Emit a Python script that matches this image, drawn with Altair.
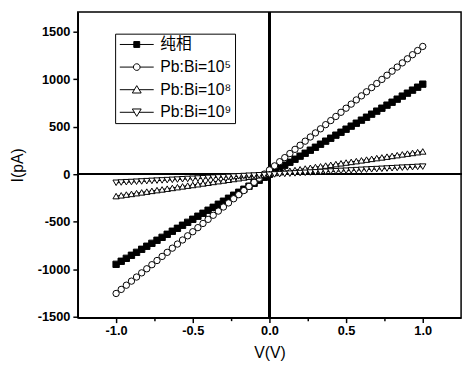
import altair as alt
import pandas as pd

voltage = [-1.0, -0.9667, -0.9333, -0.9, -0.8667, -0.8333, -0.8, -0.7667, -0.7333, -0.7,
           -0.6667, -0.6333, -0.6, -0.5667, -0.5333, -0.5, -0.4667, -0.4333, -0.4, -0.3667,
           -0.3333, -0.3, -0.2667, -0.2333, -0.2, -0.1667, -0.1333, -0.1, -0.0667, -0.0333,
           0.0,
           0.0333, 0.0667, 0.1, 0.1333, 0.1667, 0.2, 0.2333, 0.2667, 0.3, 0.3333,
           0.3667, 0.4, 0.4333, 0.4667, 0.5, 0.5333, 0.5667, 0.6, 0.6333, 0.6667,
           0.7, 0.7333, 0.7667, 0.8, 0.8333, 0.8667, 0.9, 0.9333, 0.9667, 1.0]

pure_phase = [-948, -916, -885, -853, -822, -790, -758, -727, -695, -664,
              -632, -600, -569, -537, -506, -474, -442, -411, -379, -348,
              -316, -284, -253, -221, -190, -158, -126, -95, -63, -32,
              0,
              32, 63, 95, 126, 158, 190, 221, 253, 284, 316,
              348, 379, 411, 442, 474, 506, 537, 569, 600, 632,
              664, 695, 727, 758, 790, 822, 853, 885, 916, 948]

pb_bi_1e5 = [-1255, -1212, -1168, -1125, -1082, -1038, -995, -952, -908, -865,
             -822, -778, -735, -692, -648, -605, -562, -518, -475, -432,
             -388, -345, -302, -258, -215, -172, -128, -85, -42, 2,
             45,
             88, 132, 175, 218, 262, 305, 348, 392, 435, 478,
             522, 565, 608, 652, 695, 738, 782, 825, 868, 912,
             955, 998, 1042, 1085, 1128, 1172, 1215, 1258, 1302, 1345]

pb_bi_1e8 = [-230, -222, -214, -207, -199, -191, -183, -175, -167, -160,
             -152, -144, -136, -128, -120, -113, -105, -97, -89, -81,
             -73, -66, -58, -50, -42, -34, -26, -19, -11, -3,
             5,
             13, 21, 29, 36, 44, 52, 60, 68, 76, 83,
             91, 99, 107, 115, 123, 130, 138, 146, 154, 162,
             170, 177, 185, 193, 201, 209, 217, 224, 232, 240]

pb_bi_1e9 = [-90, -87, -84, -82, -79, -76, -73, -70, -67, -65,
             -62, -59, -56, -53, -50, -48, -45, -42, -39, -36,
             -33, -31, -28, -25, -22, -19, -16, -14, -11, -8,
             -5,
             -2, 1, 3, 6, 9, 12, 15, 18, 20, 23,
             26, 29, 32, 35, 37, 40, 43, 46, 49, 52,
             54, 57, 60, 63, 66, 69, 71, 74, 77, 80]

series_names = ["纯相", "Pb:Bi=10⁵", "Pb:Bi=10⁸", "Pb:Bi=10⁹"]
series_values = [pure_phase, pb_bi_1e5, pb_bi_1e8, pb_bi_1e9]
marker_shapes = ["square", "circle", "triangle-up", "triangle-down"]
marker_fills = ["black", "white", "white", "white"]

x_ticks = [-1.0, -0.75, -0.5, -0.25, 0.0, 0.25, 0.5, 0.75, 1.0]
y_ticks = [-1500, -1250, -1000, -750, -500, -250, 0, 250, 500, 750, 1000, 1250, 1500]

rows = []
for name, vals in zip(series_names, series_values):
    for v, i in zip(voltage, vals):
        rows.append({"V": v, "I": i, "series": name})
df = pd.DataFrame(rows)

legend_df = pd.DataFrame({"series": series_names, "V": [5.0] * 4, "I": [0] * 4})

font = "Liberation Sans, Arial, Noto Sans CJK SC"

xscale = alt.Scale(domain=[-1.25, 1.25], nice=False, zero=False)
yscale = alt.Scale(domain=[-1510, 1707], nice=False, zero=False)

x_axis = alt.Axis(
    values=x_ticks,
    labelExpr="round(datum.value*4) % 2 === 0 ? replace(format(datum.value, '.1f'), '\u2212', '-') : ''",
    tickSize={"condition": {"test": "round(datum.value*4) % 2 === 0", "value": 5}, "value": 3},
    title="V(V)",
    titlePadding=8,
    labelPadding=2,
)
y_axis = alt.Axis(
    values=y_ticks,
    labelExpr="datum.value % 500 === 0 ? replace(format(datum.value, 'd'), '\u2212', '-') : ''",
    tickSize={"condition": {"test": "datum.value % 500 === 0", "value": 5}, "value": 3},
    title="I(pA)",
    titlePadding=12,
    labelPadding=3,
)

base = alt.Chart(df)

lines = base.mark_line(color="black", strokeWidth=1, clip=True).encode(
    x=alt.X("V:Q", scale=xscale, axis=x_axis),
    y=alt.Y("I:Q", scale=yscale, axis=y_axis),
    detail="series:N",
)

point_layers = []
for name, shp, fc in zip(series_names, marker_shapes, marker_fills):
    point_layers.append(
        base.transform_filter(alt.datum.series == name)
        .mark_point(shape=shp, fill=fc, stroke="black", strokeWidth=1, opacity=1,
                    fillOpacity=1, size=42, clip=True)
        .encode(x="V:Q", y="I:Q")
    )

legend_paths = [
    "M-2.3,0H2.3M-0.4,-0.4H0.4V0.4H-0.4Z",
    "M-2.3,0H-0.45M0.45,0H2.3M-0.45,0A0.45,0.45 0 1,0 0.45,0A0.45,0.45 0 1,0 -0.45,0Z",
    "M-2.3,0H-0.3M0.3,0H2.3M0,-0.55L0.6,0.45L-0.6,0.45Z",
    "M-2.3,0H-0.3M0.3,0H2.3M0,0.55L0.6,-0.45L-0.6,-0.45Z",
]

leg = alt.Legend(
    title=None,
    orient="none",
    legendX=38,
    legendY=22,
    strokeColor="black",
    padding=3,
    symbolSize=225,
    symbolStrokeColor="black",
    symbolStrokeWidth=1,
    symbolOpacity=1,
    labelFont=font,
    labelFontSize=16,
    labelColor="black",
    labelOffset=16,
    rowPadding=7,
    symbolOffset=11,
)

legend_layer = alt.Chart(legend_df).mark_point(
    strokeWidth=1, opacity=1, fillOpacity=1, clip=True
).encode(
    x="V:Q",
    y="I:Q",
    shape=alt.Shape("series:N", scale=alt.Scale(domain=series_names, range=legend_paths), legend=leg),
    fill=alt.Fill("series:N", scale=alt.Scale(domain=series_names, range=marker_fills), legend=leg),
    stroke=alt.Stroke("series:N", scale=alt.Scale(domain=series_names, range=["black"] * 4), legend=leg),
)

zero_v = alt.Chart(df).mark_rule(color="black", strokeWidth=1.5).encode(x=alt.datum(0))
zero_h = alt.Chart(df).mark_rule(color="black", strokeWidth=1.5).encode(y=alt.datum(0))

chart = alt.layer(zero_v, zero_h, lines, *point_layers, legend_layer).properties(
    width=390,
    height=311,
    autosize=alt.AutoSizeParams(type="none"),
    padding={"left": 71, "top": 1, "right": 5, "bottom": 45},
    background="white",
).configure_view(
    stroke="black", strokeWidth=1.5
).configure_axis(
    grid=False,
    domainColor="black",
    domainWidth=1.5,
    tickColor="black",
    tickWidth=1.5,
    labelFont=font,
    labelFontSize=13,
    labelFontWeight="bold",
    labelColor="black",
    titleFont=font,
    titleFontSize=16,
    titleFontWeight="normal",
    titleColor="black",
)

chart.save("out.html", embed_options={"renderer": "svg", "actions": False})
